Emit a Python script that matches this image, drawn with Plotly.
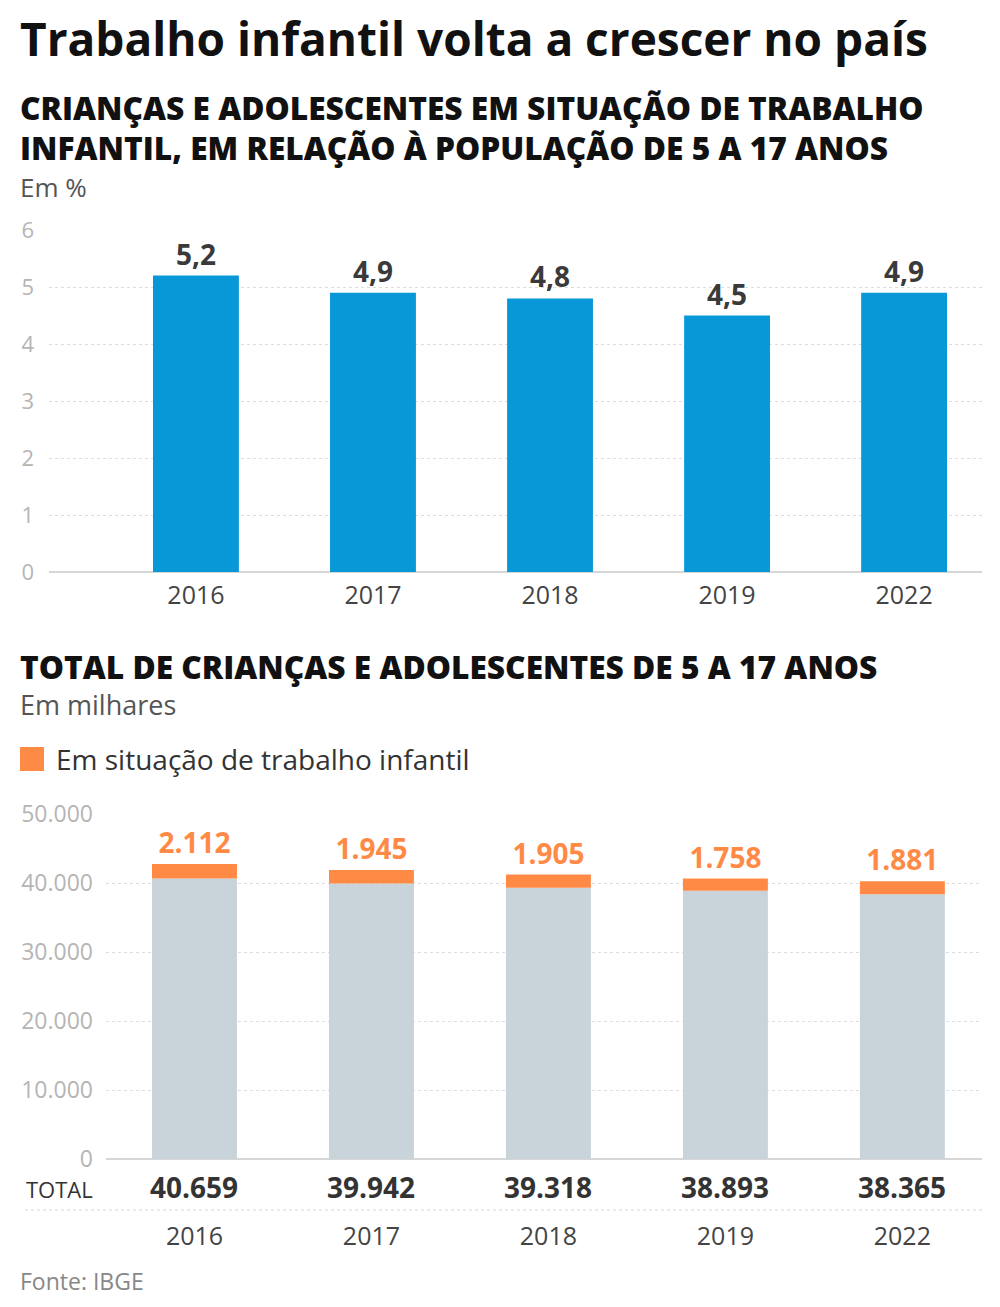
import plotly.graph_objects as go

anos = ["2016", "2017", "2018", "2019", "2022"]
percentual = [5.2, 4.9, 4.8, 4.5, 4.9]
total_milhares = [40659, 39942, 39318, 38893, 38365]
trabalho_infantil = [2112, 1945, 1905, 1758, 1881]

# a pagina tem 8px de margem no body, entao a figura e um pouco menor
OFF = 8
W = 1000 - OFF
H = 1307 - OFF

def py(px):
  # pixel da tela (topo) -> coordenada paper
  return 1 - (px - OFF) / H

def pxx(px):
  return (px - OFF) / W

FONT = "Open Sans"
azul = "#0897d7"
cinza = "#c8d3da"
laranja = "#ff8a46"
grade = "#dcdcdc"

pos = list(range(len(anos)))

fig = go.Figure()

fig.add_trace(go.Bar(
  x=pos, y=percentual, xaxis="x", yaxis="y",
  marker=dict(color=azul, line=dict(width=0)),
  width=0.485,
  texttemplate="%{y:.1f}", textposition="outside", cliponaxis=False,
  textfont=dict(family=FONT, size=28, color="#3a3a3a", weight=700),
  showlegend=False, hoverinfo="skip",
))

fig.add_trace(go.Bar(
  x=pos, y=total_milhares, xaxis="x2", yaxis="y2",
  marker=dict(color=cinza, line=dict(width=0)),
  width=0.48, showlegend=False, hoverinfo="skip",
))
fig.add_trace(go.Bar(
  x=pos, y=trabalho_infantil, xaxis="x2", yaxis="y2",
  marker=dict(color=laranja, line=dict(width=0)),
  width=0.48,
  texttemplate="%{y:,d}", textposition="outside", cliponaxis=False,
  textfont=dict(family=FONT, size=28, color=laranja, weight=700),
  name="Em situação de trabalho infantil", showlegend=False, hoverinfo="skip",
))

fig.update_layout(
  width=W, height=H, autosize=False,
  margin=dict(l=0, r=0, t=0, b=0, pad=0, autoexpand=False),
  paper_bgcolor="white", plot_bgcolor="white",
  barmode="relative", separators=",.",
  font=dict(family=FONT, color="#333"),
  xaxis=dict(
    domain=[pxx(49), pxx(982)], range=[-0.83, 4.44],
    tickvals=pos, ticktext=anos, showgrid=False, zeroline=False,
    showline=False, ticks="", ticklabelstandoff=6,
    tickfont=dict(family=FONT, size=25, color="#444"),
    anchor="y", fixedrange=True,
  ),
  yaxis=dict(
    domain=[py(572), py(230)], range=[0, 6],
    tickvals=[0, 1, 2, 3, 4, 5, 6],
    showgrid=True, gridcolor=grade, griddash="dot", gridwidth=1,
    zeroline=True, zerolinecolor="#d6d6d6", zerolinewidth=2,
    ticks="", ticklabelstandoff=14,
    tickfont=dict(family=FONT, size=22, color="#b5b5b5"),
    anchor="x", fixedrange=True,
  ),
  xaxis2=dict(
    domain=[pxx(106), pxx(982)], range=[-0.5, 4.45],
    tickvals=pos, ticktext=anos, showgrid=False, zeroline=False,
    showline=False, ticks="", ticklabelstandoff=60,
    tickfont=dict(family=FONT, size=25, color="#444"),
    anchor="y2", fixedrange=True,
  ),
  yaxis2=dict(
    domain=[py(1159), py(814)], range=[0, 50000],
    tickvals=[0, 10000, 20000, 30000, 40000, 50000], tickformat=",d",
    showgrid=True, gridcolor=grade, griddash="dot", gridwidth=1,
    zeroline=True, zerolinecolor="#d6d6d6", zerolinewidth=2,
    ticks="", ticklabelstandoff=12,
    tickfont=dict(family=FONT, size=23, color="#b5b5b5"),
    anchor="x2", fixedrange=True,
  ),
)

textos = [
  ("Trabalho infantil volta a crescer no país", 38, 46, "#111", 700),
  ("CRIANÇAS E ADOLESCENTES EM SITUAÇÃO DE TRABALHO", 108, 31.7, "#111", 800),
  ("INFANTIL, EM RELAÇÃO À POPULAÇÃO DE 5 A 17 ANOS", 147, 31.7, "#111", 800),
  ("Em %", 187, 26, "#555", 400),
  ("TOTAL DE CRIANÇAS E ADOLESCENTES DE 5 A 17 ANOS", 666, 31.7, "#111", 800),
  ("Em milhares", 704, 27, "#555", 400),
  ("Fonte: IBGE", 1281, 23, "#888", 400),
]
for t, y, s, c, w in textos:
  fig.add_annotation(
    text=t, x=pxx(18), y=py(y), xref="paper", yref="paper",
    xanchor="left", yanchor="middle", showarrow=False,
    font=dict(family=FONT, size=s, color=c, weight=w),
  )

# legenda
fig.add_shape(type="rect", xref="paper", yref="paper",
  x0=pxx(20), x1=pxx(44), y0=py(771), y1=py(747),
  fillcolor=laranja, line=dict(width=0))
fig.add_annotation(
  text="Em situação de trabalho infantil", x=pxx(54), y=py(759),
  xref="paper", yref="paper", xanchor="left", yanchor="middle",
  showarrow=False, font=dict(family=FONT, size=28, color="#333"),
)

# linha TOTAL
fig.add_annotation(
  text="TOTAL", x=pxx(95), y=py(1189), xref="paper", yref="paper",
  xanchor="right", yanchor="middle", showarrow=False,
  font=dict(family=FONT, size=22, color="#333"),
)
for i, v in enumerate(total_milhares):
  fig.add_annotation(
    text=f"{v:,}".replace(",", "."), x=i, y=py(1187), xref="x2", yref="paper",
    xanchor="center", yanchor="middle", showarrow=False,
    font=dict(family=FONT, size=28, color="#333", weight=700),
  )
fig.add_shape(type="line", xref="paper", yref="paper",
  x0=pxx(25), x1=pxx(982), y0=py(1210), y1=py(1210),
  line=dict(color="#d8d8d8", width=1, dash="dot"))

fig.write_html("out.html")
